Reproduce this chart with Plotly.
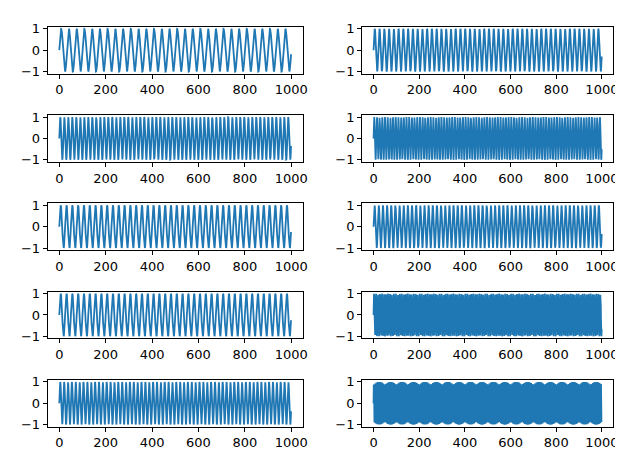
import numpy as np
import plotly.graph_objects as go

# cycles per 1000 samples read per panel (row-major: left, right)
cycles = [30, 48, 58, 85, 40, 55, 40, 115, 60, 170]
n_points = 1000
x_ticks = [0, 200, 400, 600, 800, 1000]
y_ticks = [-1, 0, 1]

x = np.arange(n_points)
fig = go.Figure()
W, H = 623, 467
xdom = [[40 / W, 297 / W], [357 / W, 610 / W]]
for i, c in enumerate(cycles):
    r, col = divmod(i, 2)
    k = i + 1
    xa = "x" if k == 1 else f"x{k}"
    ya = "y" if k == 1 else f"y{k}"
    y = np.sin(2 * np.pi * c * x / n_points)
    fig.add_trace(go.Scatter(x=x, y=y, mode="lines", xaxis=xa, yaxis=ya,
                             line=dict(color="#1f77b4", width=1.8), showlegend=False))
    top = 14 + r * 90.2
    bot = top + 48
    ax = dict(showline=True, mirror=True, linecolor="black", linewidth=1, ticks="outside",
              ticklen=4, tickcolor="black", showgrid=False, zeroline=False,
              tickfont=dict(family="DejaVu Sans", size=13, color="black"))
    fig.layout[f"xaxis{k if k > 1 else ''}"] = dict(ax, domain=xdom[col], range=[-50, 1049],
                                                    tickvals=x_ticks, anchor=ya)
    fig.layout[f"yaxis{k if k > 1 else ''}"] = dict(ax, domain=[1 - bot / H, 1 - top / H],
                                                    range=[-1.1, 1.1], tickvals=y_ticks,
                                                    ticktext=["\u22121", "0", "1"], anchor=xa)
fig.update_layout(width=W, height=H, margin=dict(l=0, r=0, t=0, b=0),
                  plot_bgcolor="white", paper_bgcolor="white")
fig.write_html("out.html")
